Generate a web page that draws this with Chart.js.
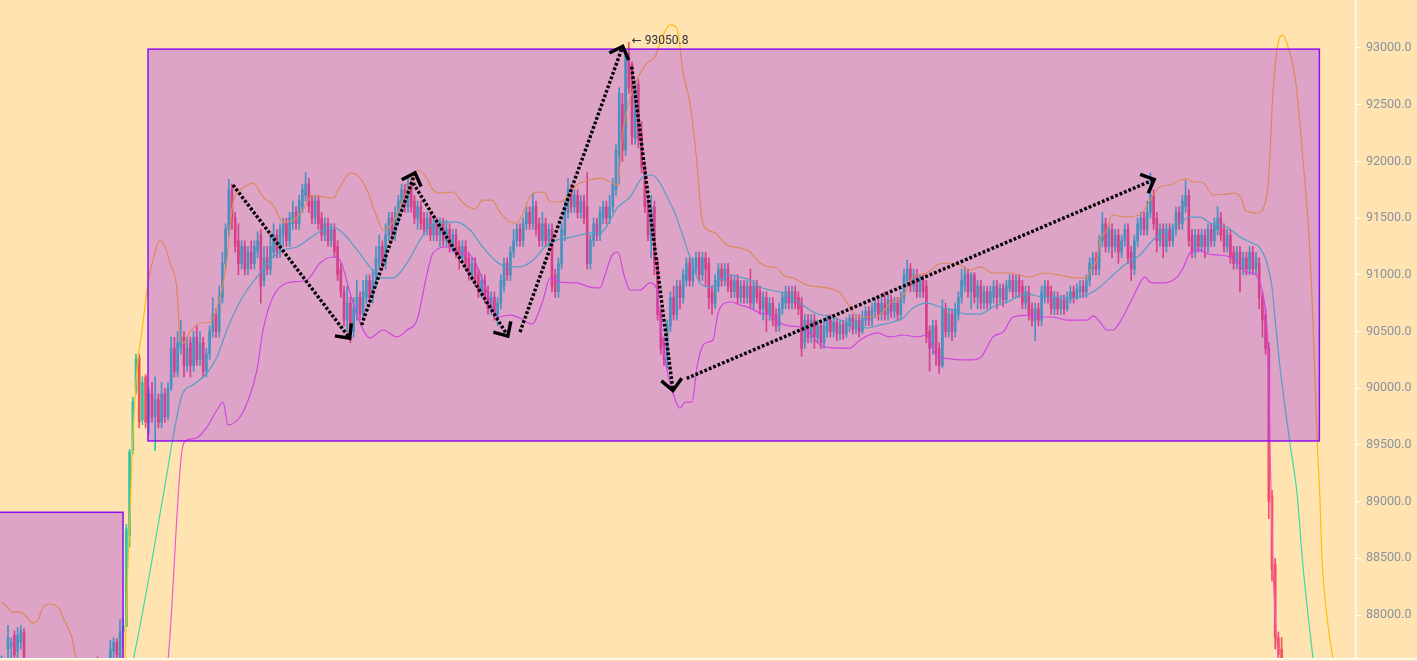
<!DOCTYPE html>
<html>
<head>
<meta charset="utf-8">
<script src="https://cdn.jsdelivr.net/npm/chart.js@4.4.1/dist/chart.umd.min.js"></script>
<style>
  html, body { margin: 0; padding: 0; background: #ffe3b0; overflow: hidden; }
  canvas { display: block; }
</style>
</head>
<body>
<canvas id="chart" width="1417" height="661"></canvas>
<script>
// ---- price candles (one entry per bar, bar index = position in array) ----
const openV = [
  87520,87600,87700,87720,87820,87680,87760,87850,87560,87450,
  87480,87400,87350,87420,87380,87300,87370,87440,87400,87330,
  87260,87300,87280,87200,87250,87320,87290,87340,87420,87380,
  87560,87500,87430,87470,87500,87680,87760,87620,87850,87900,
  88700,89450,89980,90270,89720,90100,89700,89950,89750,89900,
  89700,89950,89750,90000,90350,90150,90350,90450,90200,90400,
  90200,90450,90250,90400,90150,90300,90500,90650,90500,90800,
  91100,91400,91750,91500,91300,91100,91250,91050,91200,91100,
  91200,91350,90950,91150,91050,91200,91350,91200,91350,91450,
  91300,91450,91550,91450,91600,91700,91800,91650,91500,91650,
  91500,91350,91450,91300,91400,91250,91050,90850,90600,90750,
  90500,90650,90800,90650,90800,90950,90800,90950,91100,91250,
  91100,91350,91500,91350,91550,91600,91750,91600,91800,91650,
  91500,91600,91500,91400,91500,91350,91450,91350,91450,91300,
  91400,91250,91350,91250,91150,91250,91150,91000,91100,91000,
  90850,90950,90850,90700,90800,90650,90750,90900,91100,91000,
  91200,91300,91400,91300,91450,91550,91450,91600,91450,91300,
  91450,91300,91400,91000,90850,91100,91350,91550,91750,91600,
  91700,91550,91650,91600,91100,91300,91450,91350,91500,91600,
  91500,91600,91750,92050,92500,92100,92950,92860,92200,92680,
  92250,91950,91650,91300,91600,91100,90650,90400,90250,90550,
  90800,90650,90900,90800,90950,91100,90950,91050,91150,91000,
  91150,91100,90850,90750,90900,91050,90950,91050,90950,90850,
  90950,90800,90900,90800,90900,90750,90900,90850,90700,90800,
  90650,90750,90650,90550,90700,90750,90850,90750,90850,90800,
  90750,90400,90600,90450,90600,90450,90550,90400,90500,90600,
  90500,90580,90480,90560,90480,90550,90620,90520,90600,90500,
  90600,90680,90600,90680,90750,90650,90750,90650,90780,90680,
  90750,90650,90800,90950,91050,90900,91000,90850,90950,90900,
  90500,90350,90550,90350,90200,90700,90500,90650,90500,90650,
  90800,90900,91000,90850,91000,90800,90900,90750,90850,90750,
  90800,90900,90800,90880,90780,90880,90950,90850,90950,90900,
  90750,90850,90700,90600,90700,90600,90800,90900,90850,90700,
  90800,90700,90780,90700,90780,90850,90800,90850,90900,90850,
  90950,91050,91150,91050,91300,91450,91250,91400,91250,91350,
  91200,91300,91400,91200,91050,91300,91400,91500,91400,91550,
  91700,91500,91300,91400,91250,91400,91300,91400,91550,91450,
  91600,91700,91350,91200,91350,91250,91350,91250,91400,91300,
  91400,91500,91400,91250,91350,91200,91100,91200,91050,91150,
  91050,91200,91050,91100,90800,90650,90350,89050,88450,87800,
  87700,87500,87300,87100,87200,87000
];
const highV = [
  87640,87620,87910,87800,87860,87890,87910,87880,87600,87520,
  87560,87470,87450,87500,87430,87400,87480,87520,87450,87380,
  87340,87380,87330,87280,87350,87400,87360,87450,87500,87580,
  87630,87560,87500,87560,87780,87800,87790,87960,87970,88800,
  89460,89920,90300,90300,90100,90120,90000,90050,90100,89950,
  90050,90000,90050,90450,90450,90500,90600,90500,90450,90450,
  90500,90550,90500,90450,90350,90550,90800,90700,90900,91200,
  91450,91840,91800,91550,91450,91300,91300,91250,91300,91300,
  91380,91400,91250,91250,91350,91450,91400,91450,91500,91500,
  91550,91650,91600,91700,91800,91900,91850,91700,91700,91700,
  91550,91500,91500,91450,91450,91300,91100,90900,90900,90800,
  90800,90950,90850,90950,91000,91000,91050,91250,91350,91300,
  91450,91550,91550,91600,91700,91800,91800,91850,91850,91700,
  91650,91650,91550,91550,91550,91500,91500,91500,91500,91480,
  91450,91400,91400,91300,91300,91300,91200,91150,91150,91050,
  91000,91000,90900,90850,90850,90800,91000,91150,91150,91250,
  91400,91450,91450,91500,91600,91600,91720,91650,91500,91550,
  91500,91450,91450,91050,91150,91450,91650,91850,91800,91750,
  91750,91700,91700,91900,91350,91500,91500,91600,91650,91650,
  91700,91850,92150,92650,92600,92980,93050.8,92880,92720,92720,
  92350,92000,91700,91700,91650,91150,90700,90450,90600,90850,
  90900,90950,90950,91050,91150,91150,91150,91200,91200,91200,
  91200,91150,90900,91000,91100,91100,91100,91100,91000,91000,
  91000,90950,90950,90950,91050,90950,90950,90900,90850,90850,
  90800,90800,90700,90750,90850,90900,90900,90900,90900,90850,
  90800,90650,90650,90650,90650,90600,90600,90600,90650,90650,
  90620,90620,90600,90600,90620,90650,90650,90650,90650,90680,
  90720,90720,90750,90800,90800,90800,90850,90820,90820,90800,
  90800,90850,91050,91130,91100,91050,91050,91000,91000,90950,
  90550,90600,90600,90400,90780,90750,90700,90700,90750,90850,
  91050,91070,91050,91020,91020,90950,90950,90900,90900,90900,
  90950,90950,90920,90920,90950,91000,91000,91000,91000,90950,
  90900,90900,90750,90750,90750,90900,90950,90950,90900,90850,
  90850,90820,90820,90850,90900,90900,90920,90950,90950,91000,
  91150,91200,91200,91350,91550,91500,91450,91450,91400,91400,
  91350,91450,91450,91250,91350,91500,91550,91550,91650,91900,
  91750,91550,91450,91450,91450,91450,91450,91600,91600,91700,
  91830,91750,91400,91400,91400,91400,91400,91450,91450,91500,
  91600,91550,91450,91400,91400,91250,91250,91250,91200,91200,
  91250,91250,91200,91150,90850,90700,90400,89100,88500,87850,
  87800,87560,87400,87250,87300,87150
];
const lowV = [
  87480,87420,87550,87600,87550,87600,87700,87560,87400,87350,
  87380,87300,87280,87360,87250,87220,87320,87380,87300,87200,
  87180,87240,87150,87120,87200,87260,87200,87300,87350,87330,
  87450,87400,87360,87420,87450,87600,87560,87580,87700,87900,
  88600,89420,89950,89650,89680,89650,89600,89700,89450,89650,
  89650,89700,89720,89980,90100,90100,90300,90100,90150,90100,
  90150,90200,90200,90100,90100,90250,90450,90450,90450,90750,
  91050,91350,91400,91200,91000,91050,91000,91000,91050,91050,
  91150,90750,90900,91000,91000,91150,91150,91150,91250,91250,
  91250,91400,91400,91400,91550,91650,91550,91450,91450,91400,
  91300,91300,91250,91250,91150,90950,90800,90550,90500,90400,
  90450,90600,90600,90600,90750,90750,90750,90900,91050,91050,
  91050,91300,91300,91300,91450,91550,91550,91550,91550,91450,
  91400,91400,91350,91350,91300,91300,91300,91250,91250,91250,
  91200,91200,91150,91050,91100,91050,90950,90950,90900,90800,
  90800,90750,90650,90650,90600,90550,90700,90850,90950,90950,
  91150,91250,91250,91250,91400,91400,91400,91350,91250,91250,
  91250,91250,90850,90800,90800,91050,91300,91500,91550,91550,
  91500,91500,91450,91050,91050,91250,91300,91300,91450,91450,
  91450,91550,91700,91800,92000,92050,92600,92150,92150,92120,
  91900,91550,91300,91150,91000,90600,90300,90200,90180,90500,
  90600,90600,90700,90750,90900,90900,90900,91000,90950,90950,
  90900,90700,90650,90700,90850,90900,90900,90850,90800,90800,
  90750,90750,90750,90750,90700,90700,90750,90650,90600,90500,
  90600,90550,90500,90500,90650,90700,90700,90700,90700,90650,
  90280,90350,90400,90400,90350,90400,90350,90350,90450,90450,
  90450,90420,90430,90430,90450,90500,90480,90480,90450,90480,
  90550,90550,90550,90620,90600,90600,90600,90600,90620,90620,
  90600,90600,90750,90900,90850,90850,90800,90800,90800,90400,
  90150,90300,90200,90130,90180,90450,90450,90420,90450,90600,
  90750,90850,90800,90700,90750,90700,90700,90700,90700,90700,
  90750,90700,90750,90720,90750,90850,90800,90800,90800,90700,
  90700,90600,90550,90420,90550,90550,90750,90750,90650,90650,
  90650,90650,90650,90680,90750,90750,90780,90800,90800,90800,
  90900,91000,91000,91000,91250,91200,91200,91150,91200,91100,
  91150,91250,91100,90950,91000,91250,91350,91350,91350,91500,
  91400,91200,91250,91150,91200,91250,91250,91350,91400,91400,
  91550,91250,91150,91150,91200,91200,91150,91200,91250,91250,
  91350,91300,91200,91200,91100,91050,91050,90850,91000,91000,
  91000,91000,91000,90700,90450,90300,88850,88300,87700,87500,
  87400,87200,87000,86900,86950,86800
];
const closeV = [
  87600,87450,87800,87760,87650,87820,87860,87630,87450,87480,
  87400,87350,87420,87380,87300,87370,87440,87400,87330,87260,
  87300,87280,87200,87250,87320,87290,87340,87420,87380,87560,
  87500,87430,87470,87500,87700,87760,87650,87850,87900,88760,
  89440,89880,90260,89700,90050,89700,89950,89750,89900,89700,
  89950,89750,90000,90350,90150,90400,90450,90200,90350,90200,
  90450,90250,90400,90150,90300,90500,90650,90500,90800,91100,
  91400,91750,91500,91250,91100,91250,91050,91200,91100,91250,
  91300,90900,91150,91050,91250,91350,91200,91400,91450,91300,
  91500,91550,91450,91650,91750,91800,91600,91500,91650,91450,
  91350,91450,91300,91400,91200,91000,90850,90600,90750,90500,
  90700,90800,90650,90850,90950,90800,90950,91150,91250,91100,
  91350,91500,91350,91550,91650,91750,91600,91800,91600,91500,
  91600,91450,91400,91500,91350,91450,91350,91450,91300,91400,
  91250,91350,91200,91150,91250,91100,91000,91100,90950,90850,
  90950,90800,90700,90800,90650,90750,90950,91100,91000,91200,
  91300,91400,91300,91450,91550,91450,91600,91400,91300,91450,
  91300,91400,90900,90850,91100,91400,91600,91750,91600,91700,
  91550,91650,91500,91100,91300,91450,91350,91550,91600,91500,
  91600,91800,92100,92600,92100,92950,92650,92220,92680,92200,
  91950,91600,91350,91600,91100,90650,90350,90250,90550,90800,
  90650,90900,90800,91000,91100,90950,91100,91150,91000,91150,
  91050,90800,90750,90950,91050,90950,91050,90900,90850,90950,
  90800,90900,90800,90900,90750,90900,90800,90700,90800,90650,
  90750,90600,90550,90700,90800,90850,90750,90850,90750,90700,
  90350,90600,90450,90600,90450,90550,90400,90550,90600,90500,
  90580,90480,90560,90480,90580,90620,90520,90600,90500,90620,
  90680,90600,90700,90750,90650,90750,90650,90780,90680,90750,
  90650,90800,91000,91050,90900,91000,90850,90950,90850,90450,
  90350,90550,90300,90200,90700,90500,90650,90500,90700,90800,
  90950,91000,90850,91000,90800,90900,90750,90850,90750,90850,
  90900,90800,90880,90780,90900,90950,90850,90950,90850,90750,
  90850,90650,90600,90700,90600,90850,90900,90800,90700,90800,
  90700,90780,90700,90800,90850,90800,90870,90900,90850,90950,
  91100,91150,91050,91300,91450,91250,91400,91250,91350,91200,
  91300,91400,91150,91050,91300,91450,91500,91400,91550,91700,
  91450,91300,91400,91250,91400,91300,91400,91550,91450,91650,
  91700,91300,91200,91350,91250,91350,91250,91400,91300,91450,
  91500,91350,91250,91350,91150,91100,91200,91050,91150,91050,
  91200,91050,91150,90800,90600,90350,89000,88400,87800,87650,
  87500,87300,87100,87200,87000,86900
];

// ---- Bollinger bands, sampled at bar positions ----
const upperIdx = [0,1.7,3.3,5.8,7.3,9.8,11.4,12.9,15.1,16.7,18.3,19.2,20.4,22,22.9,24.5,30.8,37,38.3,39.5,40.1,40.75,41.7,42.6,43.9,45.75,47.3,49.5,51.1,52.6,54.8,55.75,56.7,58.9,62,65.1,68.25,70.4,72.3,75.4,78.6,81.7,84.8,88,91.1,94.2,97,100.4,103.6,105.75,108.9,112,114.2,117.3,119.2,122.3,125.1,127.6,130.1,133.25,134.5,137,141,144.2,147.9,150.4,153.25,155.75,158.9,161.1,163,165.1,167.6,169.8,171.4,174.5,176.7,179.8,183.9,187,192.6,193.8,195.4,198.6,201.7,204.2,205.75,208.9,211,213,215.1,217.3,218.9,220.75,223,226.7,230.75,233.9,237,240.1,242.3,244.2,247.3,251.7,257.9,262,265.1,267.3,270.4,274.5,277.6,279.8,282.3,284.8,289.2,292.3,295.4,299.5,302.6,305.75,309.8,315.1,321.4,325.4,330.75,336.1,339.2,340.75,342.3,343.25,345.4,347,351,355.75,358.9,362,365.1,368.25,370.4,372.3,375.1,378.6,382.9,385.4,387.6,388.6,392.3,395.4,396.4,397,398.9,400.4,402,404.2,406.7,408.9,409.8,411.1,412,412.6,414.2,416,418.25];
const upperVal = [88115,88070,88026,88026,88000,87930,87956,88070,88097,88088,88044,87974,87912,87797,87665,87470,87350,87300,87450,88458,88864,89393,89922,90249,90513,90928,91130,91307,91245,91113,90866,90451,90399,90495,90575,90584,90804,91130,91633,91765,91809,91686,91615,91465,91483,91571,91703,91686,91677,91774,91898,91853,91748,91509,91395,91465,91633,91809,91924,91836,91760,91721,91730,91633,91580,91659,91659,91553,91465,91457,91545,91686,91730,91721,91642,91642,91686,91792,91836,91853,91792,92180,92453,92718,92867,92920,93044,93203,93176,92779,92515,91986,91483,91395,91369,91263,91236,91201,91104,91069,91060,90998,90972,90910,90884,90840,90716,90628,90628,90645,90751,90778,90839,90980,91016,91086,91104,91086,91042,91069,91016,91016,90980,91016,90998,90972,90980,91069,91130,91307,91395,91527,91510,91527,91659,91774,91792,91836,91845,91818,91818,91703,91712,91721,91659,91571,91545,91703,92074,92453,93044,93114,93009,92744,92012,91192,90601,89543,89014,88511,87982,87621,87250];

const middleIdx = [0,30,38.6,41.1,47,51.7,53.6,56.4,59.8,64.2,67.3,70.4,73.6,76.7,79.8,83.9,88,92.3,96.4,100.4,103.6,106.7,111.1,115.1,118.25,122.3,126.7,130.75,133.9,137,142.3,146.4,150.4,154.8,158,162,166.1,170.4,173.6,176.7,180.75,184.8,187,192.6,196.4,200.4,203.25,205.75,208,210.4,213,215.1,218.25,221.4,224.5,227.6,230.75,233.9,237,240.1,244.2,249.5,253.6,258.9,265.1,270.4,274.5,278.6,281.7,284.8,289.2,293.25,297.3,301.7,305.75,309.8,314.2,320.4,325.4,330.75,334.8,339.2,343.25,347.3,351.7,355.75,359.8,363,367.3,371.4,374.5,377.6,382.9,387,390.1,393.25,395.4,397,398,399.5,402.6,404.8,406.7,409.8,412];
const middleVal = [87150,87200,87350,87603,88485,89252,89570,89940,90028,90134,90275,90513,90716,90866,90980,91130,91219,91245,91324,91395,91421,91369,91219,91069,90972,90972,91104,91307,91430,91465,91465,91395,91245,91113,91069,91069,91130,91263,91307,91324,91351,91369,91369,91598,91686,91862,91880,91809,91686,91545,91333,91157,90928,90892,90954,90998,90980,90954,90892,90866,90839,90751,90672,90628,90575,90531,90557,90584,90619,90707,90751,90716,90689,90654,90654,90716,90760,90830,90804,90804,90795,90822,90892,90998,91104,91174,91307,91377,91439,91509,91509,91457,91421,91333,91289,91237,91104,90892,90601,90187,89517,89076,88423,87621,87074];

const lowerIdx = [0,30.75,49.5,52,56.4,57.9,61,64.2,67.3,69.2,70.75,74.5,76.7,79.8,81.7,84.8,89.2,95.4,99.5,103.6,105.75,108.9,112,115.1,119.2,123.6,126.7,129.8,133,134.8,139.2,142.3,146.4,149.5,152.6,155.1,158.9,162,165.75,169.2,171.4,174.5,179.8,183.9,187,188.6,190.75,192.6,194.5,196.4,199.5,202.6,204.8,205.75,207.3,209.8,212,213.6,215.75,217.3,218.9,220.75,222.3,223.9,226,228.25,230.75,233.9,237,240.1,243.25,246.4,249.5,252.6,255.75,261.1,265.1,268.25,273.6,277.6,281.7,286.1,289.2,292.3,294.2,299.5,302.6,305.75,309.8,313,316.1,321.4,324.5,328.6,333,339.2,341.1,343.25,345.4,347.3,350.4,353.6,357.3,358.9,363,367.3,369.2,371.4,374.5,377,380.75,383.9,386.4,388.6,391.1,393.25,394.8,395.75,396.4,397.3,398.9,401];
const lowerVal = [86900,86900,87300,87603,89455,89543,89561,89658,89808,89878,89676,89746,89869,90160,90513,90804,90928,90954,91104,91157,91130,90839,90575,90443,90513,90452,90513,90601,91016,91192,91245,91192,91174,91016,90778,90628,90645,90619,90566,90778,90972,90936,90928,90892,90884,91000,91174,91201,90998,90866,90866,90928,90866,90601,90249,89958,89825,89878,89878,90187,90363,90407,90425,90663,90751,90760,90734,90707,90663,90645,90575,90548,90540,90487,90381,90354,90354,90425,90487,90452,90469,90452,90469,90275,90266,90249,90249,90266,90452,90496,90628,90645,90628,90628,90601,90601,90637,90584,90513,90513,90628,90804,90980,90936,90928,90980,91060,91192,91219,91183,91174,91157,91104,91025,91016,90928,90716,90337,89455,88423,87621,87074];

// ---- price axis ticks ----
const priceTicks = [88000,88500,89000,89500,90000,90500,91000,91500,92000,92500,93000];

// ---- range boxes (bar index span, price span) ----
const boxFromIdx = [45.75, -10];
const boxToIdx   = [411.8, 37.95];
const boxTopVal  = [92990, 88906];
const boxBotVal  = [89535, 87000];

// ---- swing arrows (bar index / price at tail and head) ----
const arrowFromIdx = [72.3, 112.5, 128.6, 162, 196.9, 214.1];
const arrowFromVal = [91792, 90557, 91809, 90495, 92835, 90087];
const arrowToIdx   = [108.8, 129.2, 158.2, 194.1, 209.8, 360.2];
const arrowToVal   = [90440, 91900, 90460, 93015, 89980, 91840];

// ---- palette ----
const BG = '#ffe3b0';
const UP = '#2cc6a6';
const DOWN = '#f25358';
const UPPER = '#ffbb10';
const MIDDLE = '#3cd8ae';
const LOWER = '#ee5ad2';
const BOX_FILL = 'rgba(144,19,254,0.30)';
const BOX_EDGE = '#9010f0';

const barIdx = openV.map((_, i) => i);
const barColor = barIdx.map(i => closeV[i] >= openV[i] ? UP : DOWN);

const pts = (xs, ys) => xs.map((x, k) => ({ x, y: ys[k] }));

const backgroundPlugin = {
  id: 'backdrop',
  beforeDraw(chart) {
    const c = chart.ctx;
    c.save();
    c.fillStyle = BG;
    c.fillRect(0, 0, chart.width, chart.height);
    c.restore();
  }
};

const overlayPlugin = {
  id: 'overlay',
  afterDatasetsDraw(chart) {
    const { ctx, chartArea: a } = chart;
    const xs = chart.scales.x, ys = chart.scales.y;
    ctx.save();
    ctx.beginPath();
    ctx.rect(a.left, a.top, a.right - a.left, a.bottom - a.top);
    ctx.clip();

    // translucent range boxes
    for (let k = 0; k < boxFromIdx.length; k++) {
      const x0 = xs.getPixelForValue(boxFromIdx[k]);
      const x1 = xs.getPixelForValue(boxToIdx[k]);
      const y0 = ys.getPixelForValue(boxTopVal[k]);
      const y1 = ys.getPixelForValue(boxBotVal[k]);
      ctx.fillStyle = BOX_FILL;
      ctx.fillRect(x0, y0, x1 - x0, y1 - y0);
      ctx.strokeStyle = BOX_EDGE;
      ctx.lineWidth = 1.5;
      ctx.strokeRect(x0, y0, x1 - x0, y1 - y0);
    }

    // dotted swing arrows with open heads
    for (let k = 0; k < arrowFromIdx.length; k++) {
      const x0 = xs.getPixelForValue(arrowFromIdx[k]);
      const y0 = ys.getPixelForValue(arrowFromVal[k]);
      const x1 = xs.getPixelForValue(arrowToIdx[k]);
      const y1 = ys.getPixelForValue(arrowToVal[k]);
      ctx.strokeStyle = '#000000';
      ctx.lineWidth = 3.4;
      ctx.setLineDash([2.8, 2.0]);
      ctx.lineCap = 'butt';
      ctx.beginPath();
      ctx.moveTo(x0, y0);
      ctx.lineTo(x1, y1);
      ctx.stroke();
      ctx.setLineDash([]);
      const ang = Math.atan2(y1 - y0, x1 - x0);
      const len = 15, spread = Math.PI * 0.24;
      ctx.lineWidth = 3.4;
      ctx.lineJoin = 'miter';
      ctx.beginPath();
      ctx.moveTo(x1 - len * Math.cos(ang - spread), y1 - len * Math.sin(ang - spread));
      ctx.lineTo(x1, y1);
      ctx.lineTo(x1 - len * Math.cos(ang + spread), y1 - len * Math.sin(ang + spread));
      ctx.stroke();
    }

    // highest high marker
    let top = 0;
    for (let i = 1; i < highV.length; i++) if (highV[i] > highV[top]) top = i;
    const tx = xs.getPixelForValue(top) + 3;
    const ty = ys.getPixelForValue(highV[top]) - 1;
    ctx.fillStyle = '#2f3340';
    ctx.font = "12px Roboto, 'DejaVu Sans', sans-serif";
    ctx.textAlign = 'left';
    ctx.textBaseline = 'middle';
    ctx.fillText('\u2190 ' + highV[top].toFixed(1), tx, ty);
    ctx.restore();

    // bottom frame line
    ctx.save();
    ctx.fillStyle = '#ffffff';
    ctx.fillRect(0, a.bottom, chart.width, 1.5);
    ctx.restore();
  }
};

new Chart(document.getElementById('chart'), {
  type: 'bar',
  data: {
    datasets: [
      { type: 'line', label: 'Upper', data: pts(upperIdx, upperVal), borderColor: UPPER, borderWidth: 1.2,
        pointRadius: 0, fill: false, cubicInterpolationMode: 'monotone', order: 0 },
      { type: 'line', label: 'Basis', data: pts(middleIdx, middleVal), borderColor: MIDDLE, borderWidth: 1.2,
        pointRadius: 0, fill: false, cubicInterpolationMode: 'monotone', order: 0 },
      { type: 'line', label: 'Lower', data: pts(lowerIdx, lowerVal), borderColor: LOWER, borderWidth: 1.2,
        pointRadius: 0, fill: false, cubicInterpolationMode: 'monotone', order: 0 },
      { type: 'bar', label: 'Body', data: barIdx.map(i => ({ x: i, y: [openV[i], closeV[i]] })),
        backgroundColor: barColor, barThickness: 2, minBarLength: 1, grouped: false, order: 1 },
      { type: 'bar', label: 'Wick', data: barIdx.map(i => ({ x: i, y: [lowV[i], highV[i]] })),
        backgroundColor: barColor, barThickness: 1, grouped: false, order: 2 }
    ]
  },
  options: {
    responsive: false,
    animation: false,
    devicePixelRatio: 1,
    events: [],
    layout: { padding: { left: 0, right: 0, top: 0, bottom: 3 } },
    plugins: { legend: { display: false }, tooltip: { enabled: false } },
    scales: {
      x: { type: 'linear', display: false, min: -0.5, max: 423.25, offset: false },
      y: {
        position: 'right',
        min: 87621,
        max: 93423,
        afterFit(s) { s.width = 61; s.paddingTop = 0; s.paddingBottom = 0; },
        afterBuildTicks(s) { s.ticks = priceTicks.map(v => ({ value: v })); },
        ticks: {
          color: '#8a93a0',
          font: { family: 'Roboto', size: 12.5 },
          padding: 5,
          autoSkip: false,
          callback: v => Number(v).toFixed(1)
        },
        grid: { drawOnChartArea: false, color: '#ffffff', tickLength: 5, tickWidth: 1 },
        border: { color: '#ffffff', width: 1.5 }
      }
    }
  },
  plugins: [backgroundPlugin, overlayPlugin]
});
</script>
</body>
</html>
